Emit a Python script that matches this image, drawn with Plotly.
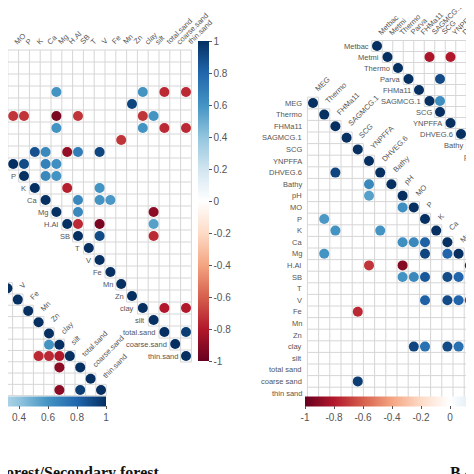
import plotly.graph_objects as go

# ---------------- data ----------------
A_vars = ["MEG", "Thermo", "FHMa11", "SAGMCG.1", "SCG", "YNPFFA", "DHVEG.6", "Bathy", "pH", "MO",
          "P", "K", "Ca", "Mg", "H.Al", "SB", "T", "V", "Fe", "Mn", "Zn", "clay", "silt",
          "total.sand", "coarse.sand", "thin.sand"]
BL_vars = ["MEG", "Thermo", "FHMa11", "SAGMCG.1", "SCG", "YNPFFA", "DHVEG.6", "Bathy", "pH", "MO",
           "P", "K", "Ca", "Mg", "H.Al", "SB", "T", "V", "Fe", "Mn", "Zn", "clay", "silt",
           "total sand", "coarse sand", "thin sand"]
BR_vars = ["Metbac", "Metmi", "Thermo", "Parva", "FHMa11", "SAGMCG.1", "SCG", "YNPFFA", "DHVEG.6",
           "Bathy", "pH", "MO", "P", "K", "Ca", "Mg", "H.Al", "SB", "T", "V", "Fe", "Mn", "Zn",
           "clay", "silt", "total sand", "coarse sand", "thin sand"]

# A, upper triangle (top-left panel)
AU_rows = ["SAGMCG.1", "SAGMCG.1", "SAGMCG.1", "SAGMCG.1", "SCG",
           "YNPFFA", "YNPFFA", "YNPFFA", "YNPFFA", "YNPFFA", "YNPFFA",
           "DHVEG.6", "DHVEG.6", "DHVEG.6", "DHVEG.6", "Bathy",
           "pH", "pH", "pH", "pH", "pH", "MO", "MO", "MO", "P", "P",
           "K", "K", "Ca", "Ca", "Ca", "Mg", "Mg", "H.Al", "H.Al", "H.Al",
           "SB", "SB", "clay", "clay", "total.sand"]
AU_cols = ["Mg", "clay", "total.sand", "thin.sand", "Zn",
           "MO", "P", "Mg", "SB", "clay", "silt",
           "Mg", "clay", "total.sand", "thin.sand", "Mn",
           "K", "Ca", "H.Al", "SB", "V", "P", "Ca", "Mg", "Ca", "Mg",
           "H.Al", "V", "SB", "V", "Fe", "SB", "silt", "SB", "V", "silt",
           "V", "silt", "total.sand", "thin.sand", "thin.sand"]
AU_vals = [0.6, 0.6, -0.75, -0.75, 0.92,
           -0.72, -0.72, -0.95, -0.72, -0.72, 0.6,
           0.6, 0.6, -0.75, -0.75, -0.72,
           0.88, 0.65, -0.88, 0.7, 0.92, 0.9, 0.68, 0.62, 0.65, 0.6,
           -0.78, 0.6, 0.65, 0.6, 0.58, 0.65, -0.9, -0.75, -0.95, 0.55,
           0.9, -0.75, -0.8, -0.8, 0.95]

# A, lower triangle (bottom-left panel)
AL_rows = ["clay", "silt", "silt", "silt", "total.sand", "thin.sand", "thin.sand"]
AL_cols = ["Zn", "Mn", "Zn", "clay", "clay", "clay", "total.sand"]
AL_vals = [0.6, -0.75, -0.75, -0.8, -0.9, -0.9, 0.95]

# B, lower triangle (bottom-right panel)
BL_rows = ["DHVEG.6", "Bathy", "pH", "MO", "P", "K", "K", "Ca", "Ca", "Ca",
           "Mg", "Mg", "Mg", "H.Al", "H.Al", "SB", "SB", "SB", "SB", "SB",
           "V", "V", "V", "V", "V", "Fe", "clay", "clay", "clay", "clay", "clay",
           "coarse sand"]
BL_cols = ["FHMa11", "YNPFFA", "YNPFFA", "pH", "Thermo", "FHMa11", "DHVEG.6", "pH", "MO", "P",
           "Thermo", "P", "Ca", "YNPFFA", "pH", "pH", "MO", "P", "Ca", "Mg",
           "P", "Ca", "Mg", "H.Al", "SB", "SCG", "MO", "P", "Ca", "Mg", "SB",
           "SCG"]
BL_vals = [0.92, 0.65, 0.55, 0.62, 0.58, 0.6, 0.6, 0.62, 0.65, 0.82,
           0.6, 0.92, 0.8, -0.72, -0.92, 0.6, 0.65, 0.85, 0.9, 0.8,
           0.82, 0.9, 0.8, -0.75, 0.9, -0.75, 0.92, 0.75, 0.9, 0.75, 0.9,
           0.95]

# B, upper triangle (top-right panel)
BU_rows = ["Metmi", "Metmi", "Parva", "FHMa11", "SAGMCG.1"]
BU_cols = ["SAGMCG.1", "YNPFFA", "SCG", "Bathy", "SCG"]
BU_vals = [-0.82, -0.8, 0.9, -0.8, 0.62]

cb_ticks = [-1, -0.8, -0.6, -0.4, -0.2, 0, 0.2, 0.4, 0.6, 0.8, 1]
cb_text = ["-1", "-0.8", "-0.6", "-0.4", "-0.2", "0", "0.2", "0.4", "0.6", "0.8", "1"]

# ---------------- style ----------------
W = H = 474
RDBU = [[0.0, "#67001F"], [0.1, "#B2182B"], [0.2, "#D6604D"], [0.3, "#F4A582"], [0.4, "#FDDBC7"],
        [0.5, "#FFFFFF"], [0.6, "#D1E5F0"], [0.7, "#92C5DE"], [0.8, "#4393C3"], [0.9, "#2166AC"],
        [1.0, "#053061"]]
LAB = dict(family="Liberation Sans", size=7.5, color="#555555")
GRID = "#d6d6d6"

panels = [
    # name, vars, type, x0, sx, y0, sy, rows, cols, vals, colorbar
    ("A_up", A_vars, "upper", -92, 10.8, 48, 12.0, AU_rows, AU_cols, AU_vals,
     dict(orientation="v", x=190 / W, xanchor="left", y=1 - 193 / H, yanchor="middle",
          len=320 / H, thickness=11)),
    ("A_low", A_vars, "lower", -167, 10.4, 99.5, 11.3, AL_rows, AL_cols, AL_vals,
     dict(orientation="h", x=-47 / W, xanchor="center", y=1 - 402 / H, yanchor="middle",
          len=290 / W, thickness=10)),
    ("B_low", BL_vars, "lower", 305, 11.2, 95, 11.6, BL_rows, BL_cols, BL_vals,
     dict(orientation="h", x=442 / W, xanchor="center", y=1 - 402 / H, yanchor="middle",
          len=290 / W, thickness=10)),
    ("B_up", BR_vars, "upper", 369, 10.5, 38, 11.0, BU_rows, BU_cols, BU_vals, None),
]

fig = go.Figure()
annotations = []
layout_axes = {}

for k, (name, vs, kind, x0, sx, y0, sy, rows, cols, vals, cb) in enumerate(panels, start=1):
    xa = "x" if k == 1 else f"x{k}"
    ya = "y" if k == 1 else f"y{k}"
    n = len(vs)
    # grid lines
    gx, gy = [], []
    for b in range(n + 1):
        if kind == "upper":
            gx += [max(b - 1, 0) - 0.5, n - 0.5, None]
            gy += [b - 0.5, b - 0.5, None]
            gx += [b - 0.5, b - 0.5, None]
            gy += [-0.5, min(b, n - 1) + 0.5, None]
        else:
            gx += [-0.5, min(b, n - 1) + 0.5, None]
            gy += [b - 0.5, b - 0.5, None]
            gx += [b - 0.5, b - 0.5, None]
            gy += [max(b - 1, 0) - 0.5, n - 0.5, None]
    fig.add_trace(go.Scatter(x=gx, y=gy, mode="lines", line=dict(color=GRID, width=1),
                             hoverinfo="skip", showlegend=False, xaxis=xa, yaxis=ya))
    # circles (off-diagonal values + diagonal = 1)
    px = [vs.index(c) for c in cols] + list(range(n))
    py = [vs.index(r) for r in rows] + list(range(n))
    pv = list(vals) + [1.0] * n
    marker = dict(size=10, color=pv, cmin=-1, cmax=1, colorscale=RDBU, line=dict(width=0))
    if cb is not None:
        marker["showscale"] = True
        marker["colorbar"] = dict(**cb, lenmode="fraction", xpad=0, ypad=0, outlinewidth=0,
                                  tickvals=cb_ticks, ticktext=cb_text, ticks="outside",
                                  ticklen=3, tickcolor="#555555",
                                  tickfont=dict(family="Liberation Sans", size=10, color="#555555"))
    else:
        marker["showscale"] = False
    fig.add_trace(go.Scatter(x=px, y=py, mode="markers", marker=marker, showlegend=False,
                             xaxis=xa, yaxis=ya))
    # labels
    xr = "x" if k == 1 else f"x{k}"
    yr = "y" if k == 1 else f"y{k}"
    for i, v in enumerate(vs):
        if kind == "upper":
            annotations.append(dict(x=i - 0.5, y=i, xref=xr, yref=yr, text=v, showarrow=False,
                                    xanchor="right", yanchor="middle", xshift=-1, font=LAB))
            annotations.append(dict(x=i, y=-0.5, xref=xr, yref=yr, text=v, showarrow=False,
                                    textangle=-45, xanchor="left", yanchor="bottom",
                                    xshift=-3, yshift=1, font=LAB))
        else:
            annotations.append(dict(x=-0.5, y=i, xref=xr, yref=yr, text=v, showarrow=False,
                                    xanchor="right", yanchor="middle", xshift=-3, font=LAB))
            annotations.append(dict(x=i, y=i - 0.5, xref=xr, yref=yr, text=v, showarrow=False,
                                    textangle=-45, xanchor="left", yanchor="bottom",
                                    xshift=-3, yshift=1, font=LAB))
    key = "" if k == 1 else str(k)
    layout_axes["xaxis" + key] = dict(range=[(0 - x0) / sx - 0.0, (W - x0) / sx], domain=[0, 1],
                                      visible=False, fixedrange=True, anchor=ya.replace("y", "y"))
    layout_axes["yaxis" + key] = dict(range=[(H - y0) / sy, (0 - y0) / sy], domain=[0, 1],
                                      visible=False, fixedrange=True, anchor=xa)

TITLE = dict(family="Liberation Serif", size=16, color="#111111")
annotations.append(dict(x=153 / W, y=1 - 465 / H, xref="paper", yref="paper",
                        text="<b>A - Primary forest/Secondary forest</b>", showarrow=False,
                        xanchor="right", yanchor="middle", font=TITLE))
annotations.append(dict(x=440 / W, y=1 - 465 / H, xref="paper", yref="paper",
                        text="<b>B - Amazon forest/Secondary forest</b>", showarrow=False,
                        xanchor="left", yanchor="middle", font=TITLE))

fig.update_layout(width=W, height=H, autosize=False, margin=dict(l=0, r=0, t=0, b=0),
                  paper_bgcolor="white", plot_bgcolor="rgba(0,0,0,0)",
                  annotations=annotations, **layout_axes)
fig.write_html("out.html")
